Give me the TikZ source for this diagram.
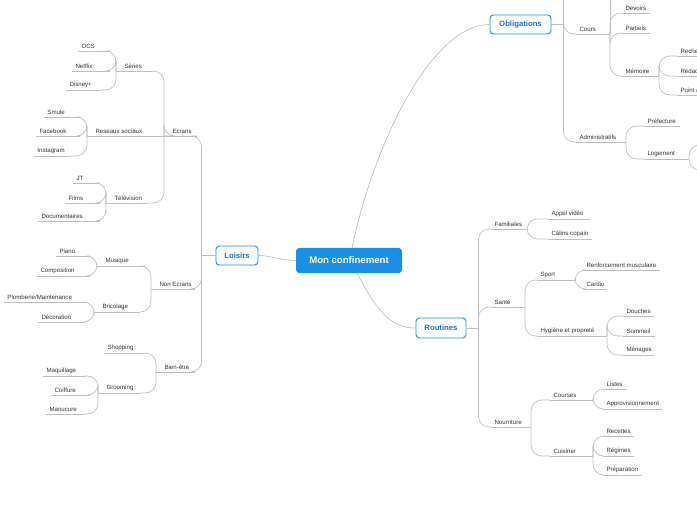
\documentclass[tikz,border=0pt]{standalone}
\usepackage{fontspec}
\setmainfont{Liberation Sans}
\definecolor{mblue}{HTML}{1A8FE3}
\definecolor{tblue}{HTML}{1D6FD6}
\definecolor{lgray}{HTML}{BFBFBF}
\tikzset{
  ul/.style={draw=lgray,line width=0.5pt},
  conn/.style={draw=lgray,line width=0.5pt,rounded corners=8pt},
  lab/.style={anchor=south west,inner sep=1.3pt,font=\fontsize{4.6}{5}\selectfont,text=black!80},
  topbox/.style={draw=mblue,fill=white,rounded corners=2.5pt,line width=0.7pt,text=tblue,font=\fontsize{5.8}{6}\selectfont\bfseries,inner sep=0pt},
  rootbox/.style={fill=mblue,rounded corners=2.5pt,text=white,font=\fontsize{7.2}{8}\selectfont\bfseries,inner sep=0pt,minimum width=79.5pt,minimum height=18.75pt},
}
\newcommand{\nd}[5]{\coordinate (#1-L) at (#2,#4); \coordinate (#1-R) at (#3,#4);
  \draw[ul] (#1-L)--(#1-R); \node[lab] (#1) at ({#2+1.5},#4) {#5};}
\newcommand{\rc}[2]{\draw[ul] (#1-R) -- ++(5,0); \draw[conn] (#1-R) ++(5,0) |- (#2-L);}
\newcommand{\lc}[2]{\draw[ul] (#1-L) -- ++(-5,0); \draw[conn] (#1-L) ++(-5,0) |- (#2-R);}
\begin{document}
\begin{tikzpicture}[x=0.75pt,y=-0.75pt]
\useasboundingbox (0,0) rectangle (697,520);
\clip (0,0) rectangle (697,520);
% main boxes
\node[rootbox] (root) at (349,260.5) {Mon confinement};
\node[topbox,minimum width=45.75pt,minimum height=14.25pt] (obl) at (520.5,24.5) {Obligations};
\node[topbox,minimum width=37.5pt,minimum height=15pt] (rout) at (441,328) {Routines};
\node[topbox,minimum width=31.5pt,minimum height=14.25pt] (lois) at (237,255.5) {Loisirs};
\draw[ul] (352,248) .. controls (372,150) and (430,24.5) .. (obl.west);
\draw[ul] (357,273) .. controls (380,318) and (395,328) .. (rout.west);
\draw[ul] (root.west) .. controls (280,260) and (270,255.5) .. (lois.east);
% Obligations
\nd{cours}{576}{598}{34}{Cours}
\nd{admin}{576}{621}{142}{Administratifs}
\nd{devoirs}{622}{650}{13}{Devoirs}
\nd{partiels}{622}{650}{33}{Partiels}
\nd{memoire}{622}{654}{76}{Mémoire}
\nd{rech}{677}{720}{56}{Recherches}
\nd{redac}{677}{720}{76}{Rédaction}
\nd{point}{677}{720}{95}{Point avancement}
\nd{pref}{644}{680}{126}{Préfecture}
\nd{loge}{644}{682}{159}{Logement}
\coordinate (oblR) at (obl.east);
\draw[ul] (oblR) -- ++(12,0);
\draw[conn] (oblR) ++(12,0) |- (cours-L);
\draw[conn] (oblR) ++(12,0) |- (admin-L);
\draw[conn] (oblR) ++(12,0) -- ++(0,-40);
\draw[ul] (cours-R) -- ++(12,0);
\draw[conn] (cours-R) ++(12,0) -- ++(0,-45);
\draw[conn] (cours-R) ++(12,0) |- (devoirs-L);
\draw[conn] (cours-R) ++(12,0) |- (partiels-L);
\draw[conn] (cours-R) ++(12,0) |- (memoire-L);
\rc{memoire}{rech} \rc{memoire}{redac} \rc{memoire}{point}
\rc{admin}{pref} \rc{admin}{loge}
\coordinate (lg1) at (740,145); \coordinate (lg2) at (740,170);
\draw[ul] (loge-R) -- ++(7,0);
\draw[conn] (loge-R) ++(7,0) |- (lg1);
\draw[conn] (loge-R) ++(7,0) |- (lg2);
% Routines
\nd{fam}{491}{522}{229}{Familiales}
\nd{sante}{491}{520}{307}{Santé}
\nd{nour}{491}{526}{427}{Nourriture}
\nd{appel}{548}{590}{219}{Appel vidéo}
\nd{calin}{548}{592}{239}{Câlins copain}
\nd{sport}{537}{570}{280}{Sport}
\nd{hyg}{537}{602}{336}{Hygiène et propreté}
\nd{renf}{583}{660}{270}{Renforcement musculaire}
\nd{cardio}{583}{607}{289}{Cardio}
\nd{douche}{623}{654}{316}{Douches}
\nd{somm}{623}{655}{336}{Sommeil}
\nd{menage}{623}{654}{355}{Ménages}
\nd{courses}{550}{588}{400}{Courses}
\nd{cuis}{550}{588}{456}{Cuisiner}
\nd{listes}{603}{627}{389}{Listes}
\nd{appro}{603}{662}{409}{Approvisionnement}
\nd{recet}{603}{634}{436}{Recettes}
\nd{regim}{603}{634}{456}{Régimes}
\nd{prep}{603}{642}{475}{Préparation}
\draw[ul] (rout.east) -- ++(12,0);
\draw[conn] (rout.east) ++(12,0) |- (fam-L);
\draw[conn] (rout.east) ++(12,0) |- (sante-L);
\draw[conn] (rout.east) ++(12,0) |- (nour-L);
\rc{fam}{appel} \rc{fam}{calin}
\rc{sante}{sport} \rc{sante}{hyg}
\rc{sport}{renf} \rc{sport}{cardio}
\rc{hyg}{douche} \rc{hyg}{somm} \rc{hyg}{menage}
\rc{nour}{courses} \rc{nour}{cuis}
\rc{courses}{listes} \rc{courses}{appro}
\rc{cuis}{recet} \rc{cuis}{regim} \rc{cuis}{prep}
% Loisirs
\nd{ecrans}{169}{197}{136}{Ecrans}
\nd{nonec}{156}{195}{289}{Non Ecrans}
\nd{bien}{161}{195}{372}{Bien-être}
\nd{series}{121}{153}{71}{Séries}
\nd{reseaux}{92}{165}{136}{Reseaux sociaux}
\nd{tele}{111}{147}{203}{Télévision}
\nd{ocs}{78}{110}{51}{OCS}
\nd{netflix}{72}{110}{71}{Netflix}
\nd{disney}{66}{100}{90}{Disney+}
\nd{smule}{44}{80}{117}{Smule}
\nd{facebook}{36}{80}{136}{Facebook}
\nd{insta}{34}{70}{156}{Instagram}
\nd{jt}{73}{100}{183}{JT}
\nd{films}{65}{100}{203}{Films}
\nd{docu}{38}{100}{221}{Documentaires}
\nd{musique}{102}{145}{266}{Musique}
\nd{brico}{99}{140}{312}{Bricolage}
\nd{piano}{56}{90}{256}{Piano}
\nd{compo}{37}{90}{276}{Composition}
\nd{plomb}{4}{85}{302}{Plomberie/Maintenance}
\nd{deco}{38}{85}{322}{Décoration}
\nd{shop}{104}{145}{353}{Shopping}
\nd{groom}{103}{140}{393}{Grooming}
\nd{maq}{43}{85}{376}{Maquillage}
\nd{coif}{51}{90}{395}{Coiffure}
\nd{manu}{46}{85}{414}{Manucure}
\draw[ul] (lois.west) -- ++(-14,0);
\draw[conn] (lois.west) ++(-14,0) |- (ecrans-R);
\draw[conn] (lois.west) ++(-14,0) |- (nonec-R);
\draw[conn] (lois.west) ++(-14,0) |- (bien-R);
\lc{ecrans}{series} \lc{ecrans}{reseaux} \lc{ecrans}{tele}
\lc{series}{ocs} \lc{series}{netflix} \lc{series}{disney}
\lc{reseaux}{smule} \lc{reseaux}{facebook} \lc{reseaux}{insta}
\lc{tele}{jt} \lc{tele}{films} \lc{tele}{docu}
\lc{nonec}{musique} \lc{nonec}{brico}
\lc{musique}{piano} \lc{musique}{compo}
\lc{brico}{plomb} \lc{brico}{deco}
\lc{bien}{shop} \lc{bien}{groom}
\lc{groom}{maq} \lc{groom}{coif} \lc{groom}{manu}
\end{tikzpicture}
\end{document}
